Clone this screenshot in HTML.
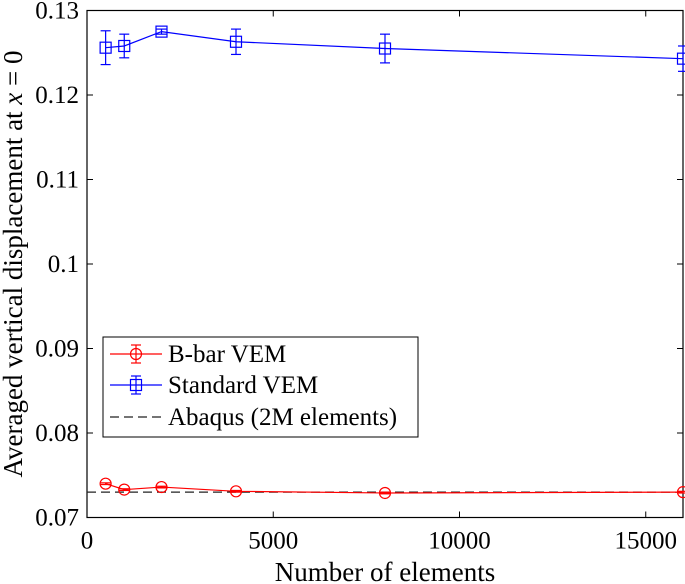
<!DOCTYPE html>
<html><head><meta charset="utf-8"><style>
html,body{margin:0;padding:0;background:#fff}
svg{display:block;font-family:"Liberation Serif",serif}
</style></head><body>
<svg id="chart" width="685" height="584" viewBox="0 0 685 584"></svg>
<script>
const xs = [500,1000,2000,4000,8000,16000];
const stdVals = [0.1256,0.1258,0.1275,0.1263,0.1255,0.1243];
const stdErr = [0.0020,0.0014,0.0003,0.0015,0.0017,0.0015];
const bbarVals = [0.0740,0.0733,0.0736,0.0731,0.0729,0.0730];
const bbarErr = [0.0001,0.0001,0.0001,0.0001,0.0001,0.0001];
const abaqus = 0.0730;
const xTicks = [0,5000,10000,15000];
const yTicks = [0.07,0.08,0.09,0.1,0.11,0.12,0.13];
const yTickLabels = ["0.07","0.08","0.09","0.1","0.11","0.12","0.13"];

const L=87,R=683,T=10.5,B=517.5;
const sx=v=>L+(v-0)/(16000)*(R-L);
const sy=v=>B-(v-0.07)/(0.06)*(B-T);
const svg=document.getElementById('chart');
const NS='http://www.w3.org/2000/svg';
function mk(tag,attrs,parent){const e=document.createElementNS(NS,tag);for(const k in attrs)e.setAttribute(k,attrs[k]);(parent||svg).appendChild(e);return e;}

const axes=mk('rect',{x:L,y:T,width:R-L,height:B-T,fill:'none',stroke:'#000','stroke-width':1.2});



xTicks.forEach(v=>{
  const x=sx(v);
  const t=mk('line',{x1:x,x2:x,y1:B,y2:B-6,stroke:'#000'});
  
  
  mk('line',{x1:x,x2:x,y1:T,y2:T+6,stroke:'#000'});
  const lb=mk('text',{x:x,y:B+31,'text-anchor':'middle','font-size':25});
  lb.textContent=v;
  
  
});
yTicks.forEach((v,i)=>{
  const y=sy(v);
  const t=mk('line',{x1:L,x2:L+6,y1:y,y2:y,stroke:'#000'});
  
  
  mk('line',{x1:R,x2:R-6,y1:y,y2:y,stroke:'#000'});
  const lb=mk('text',{x:L-8,y:y+8,'text-anchor':'end','font-size':25});
  lb.textContent=yTickLabels[i];
  
  
});

const xt=mk('text',{x:(L+R)/2,y:581,'text-anchor':'middle','font-size':27});
xt.textContent='Number of elements';


const yt=mk('text',{transform:'translate(22,'+((T+B)/2)+') rotate(-90)','text-anchor':'middle','font-size':27});
yt.innerHTML='Averaged vertical displacement at <tspan font-style="italic">x</tspan> = 0';



const ab=mk('line',{x1:L,x2:R,y1:sy(abaqus),y2:sy(abaqus),stroke:'#222','stroke-width':1.2,'stroke-dasharray':'9,5'});



function series(vals,errs,color,marker,name){
  const g=mk('g',{});
  
  
  mk('polyline',{points:xs.map((x,i)=>sx(x)+','+sy(vals[i])).join(' '),fill:'none',stroke:color,'stroke-width':1.2},g);
  xs.forEach((xv,i)=>{
    const x=sx(xv),y=sy(vals[i]),y1=sy(vals[i]+errs[i]),y2=sy(vals[i]-errs[i]);
    mk('line',{x1:x,x2:x,y1:y1,y2:y2,stroke:color,'stroke-width':1.2},g);
    mk('line',{x1:x-5,x2:x+5,y1:y1,y2:y1,stroke:color,'stroke-width':1.2},g);
    mk('line',{x1:x-5,x2:x+5,y1:y2,y2:y2,stroke:color,'stroke-width':1.2},g);
    let m;
    if(marker==='sq') m=mk('rect',{x:x-5.5,y:y-5.5,width:11,height:11,fill:'none',stroke:color,'stroke-width':1.2},g);
    else m=mk('circle',{cx:x,cy:y,r:5.5,fill:'none',stroke:color,'stroke-width':1.2},g);
    
    
  });
}
series(stdVals,stdErr,'#0000ff','sq','standard-vem-series');
series(bbarVals,bbarErr,'#ff0000','o','bbar-vem-series');

const lg=mk('g',{});


mk('rect',{x:103,y:337,width:315,height:100,fill:'#fff',stroke:'#000','stroke-width':1},lg);
const entries=[['B-bar VEM','#ff0000','o',354],['Standard VEM','#0000ff','sq',385],['Abaqus (2M elements)','#222','dash',417]];
entries.forEach(([t,c,m,y])=>{
  const e=mk('g',{},lg);
  
  
  if(m==='dash'){mk('line',{x1:110,x2:162,y1:y,y2:y,stroke:c,'stroke-width':1.2,'stroke-dasharray':'9,5'},e);}
  else{
    mk('line',{x1:110,x2:162,y1:y,y2:y,stroke:c,'stroke-width':1.2},e);
    mk('line',{x1:136,x2:136,y1:y-9,y2:y+9,stroke:c,'stroke-width':1.2},e);
    mk('line',{x1:131,x2:141,y1:y-9,y2:y-9,stroke:c,'stroke-width':1.2},e);
    mk('line',{x1:131,x2:141,y1:y+9,y2:y+9,stroke:c,'stroke-width':1.2},e);
    if(m==='sq') mk('rect',{x:130.5,y:y-5.5,width:11,height:11,fill:'none',stroke:c,'stroke-width':1.2},e);
    else mk('circle',{cx:136,cy:y,r:5.5,fill:'none',stroke:c,'stroke-width':1.2},e);
  }
  const tx=mk('text',{x:168,y:y+8,'font-size':25},e);
  tx.textContent=t;
});
</script>
</body></html>
